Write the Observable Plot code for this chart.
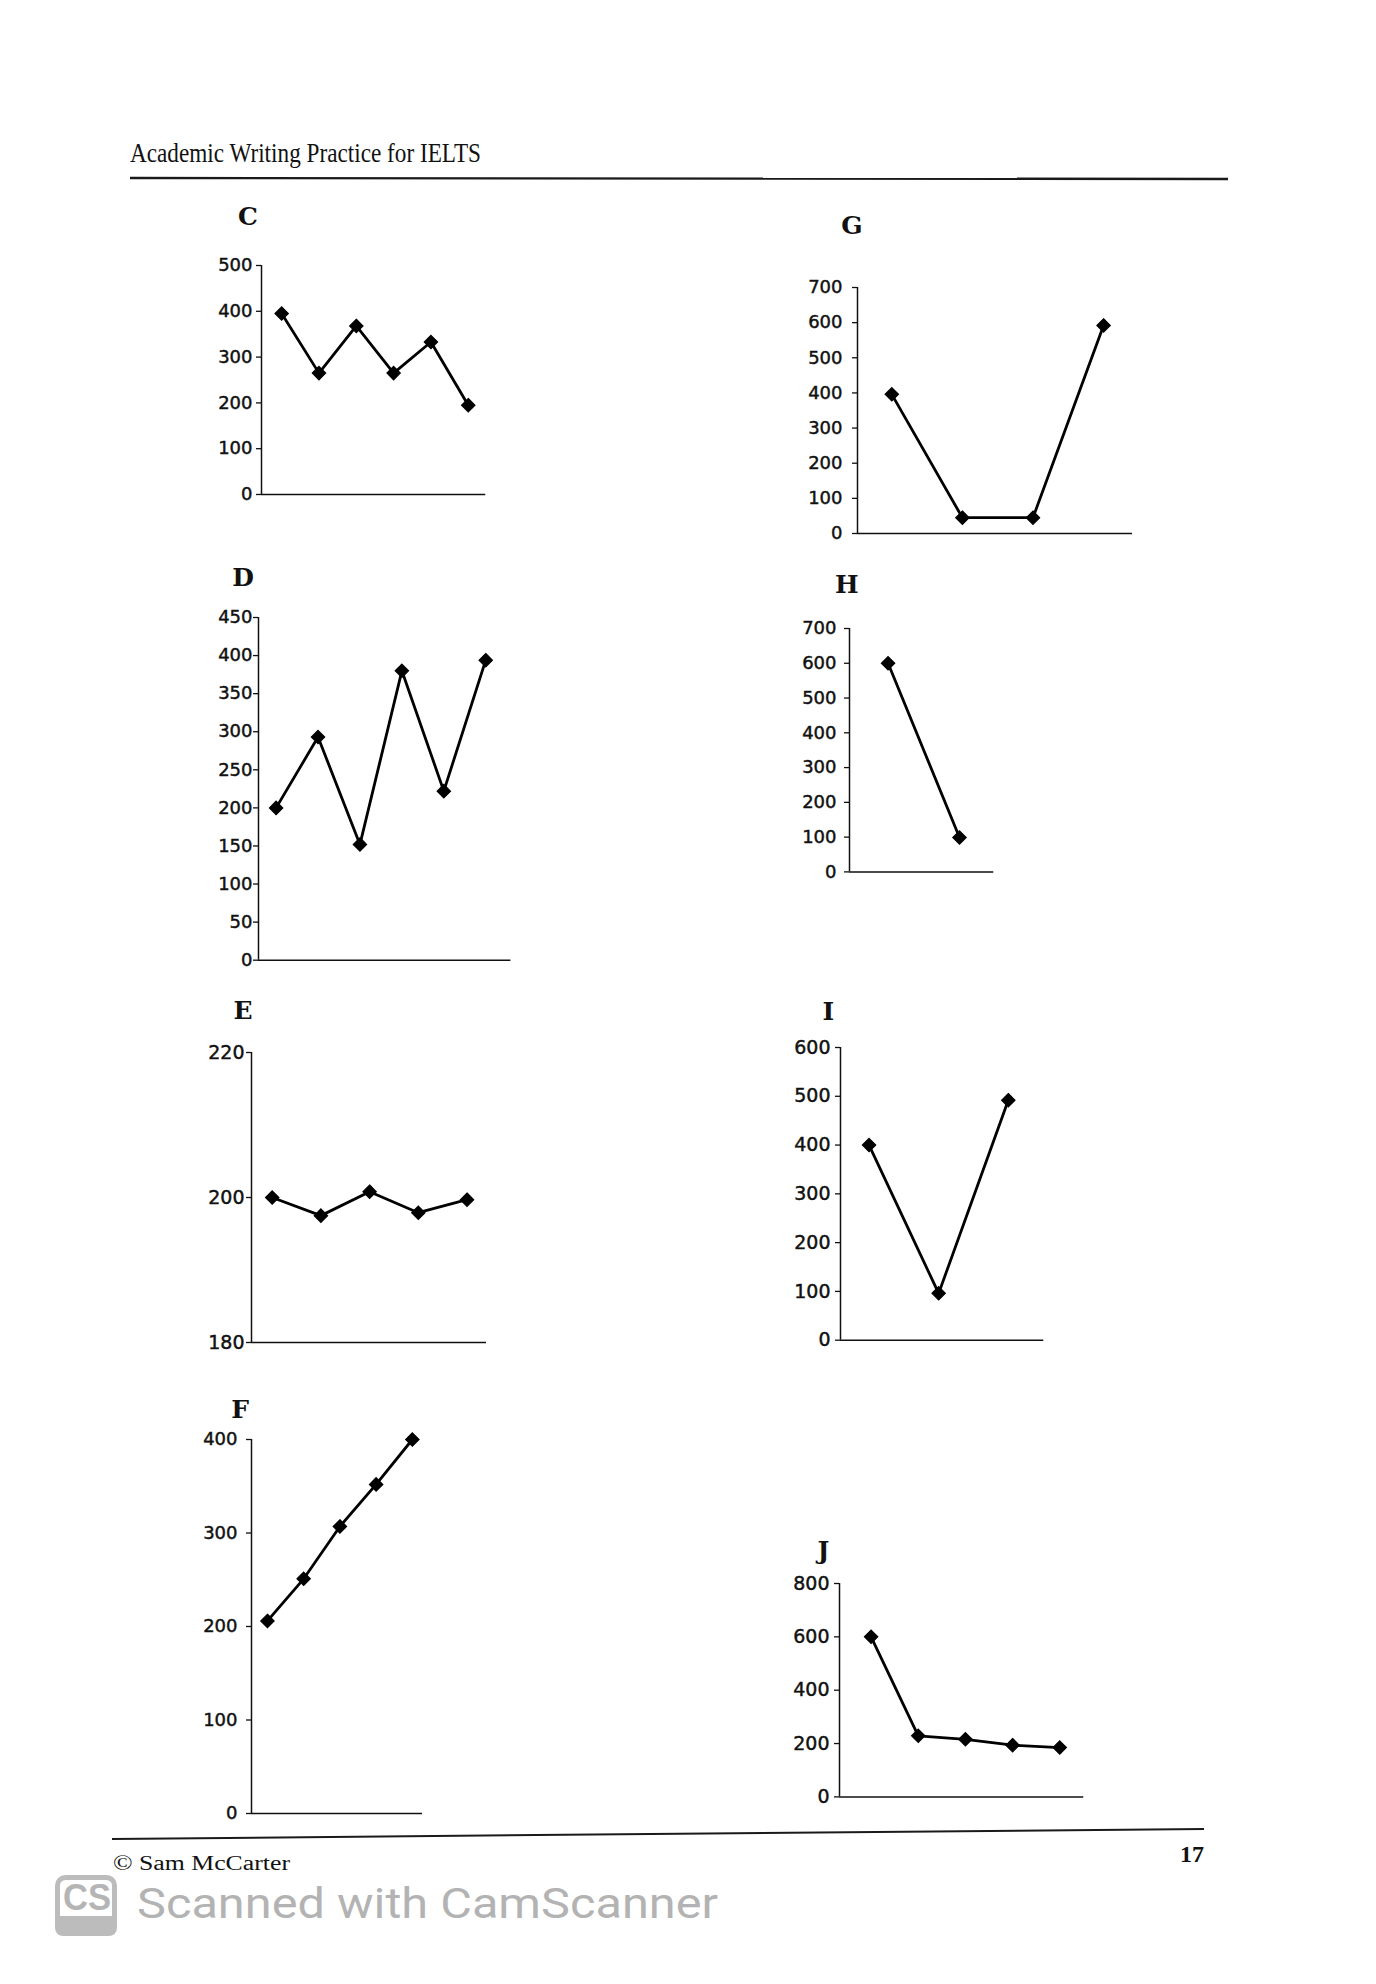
<!DOCTYPE html>
<html>
<head>
<meta charset="utf-8">
<script src="https://cdn.jsdelivr.net/npm/d3@7"></script>
<script src="https://cdn.jsdelivr.net/npm/@observablehq/plot@0.6"></script>
<style>
  html, body { margin: 0; padding: 0; background: #fff; }
  #page { position: relative; width: 1376px; height: 1984px; background: #fff; overflow: hidden; }
  #page > svg { position: absolute; }
  #page g[aria-label="y-axis tick label"] text { stroke: #111; stroke-width: 0.45px; }
</style>
</head>
<body>
<div id="page"></div>
<script>
// ---------------- data ----------------
const headerText = "Academic Writing Practice for IELTS";
const footerText = "© Sam McCarter";
const pageNumber = "17";
const scannerText = "Scanned with CamScanner";

const titles = ["C", "D", "E", "F", "G", "H", "I", "J"];

const valuesC = [395, 265, 368, 265, 333, 195];
const valuesD = [200, 293, 152, 380, 222, 394];
const valuesE = [200, 197.5, 200.8, 197.9, 199.7];
const valuesF = [206, 251, 307, 352, 400];
const valuesG = [396, 45, 45, 592];
const valuesH = [600, 99];
const valuesI = [400, 96, 492];
const valuesJ = [600, 229, 216, 194, 185];

const ticksC = [0, 100, 200, 300, 400, 500];
const ticksD = [0, 50, 100, 150, 200, 250, 300, 350, 400, 450];
const ticksE = [180, 200, 220];
const ticksF = [0, 100, 200, 300, 400];
const ticksG = [0, 100, 200, 300, 400, 500, 600, 700];
const ticksH = [0, 100, 200, 300, 400, 500, 600, 700];
const ticksI = [0, 100, 200, 300, 400, 500, 600];
const ticksJ = [0, 200, 400, 600, 800];

// ---------------- layout (page coordinates) ----------------
const layout = [
  {title: "C", values: valuesC, ticks: ticksC, axisX: 260.7, xEnd: 485,    yTop: 265,    y0: 494,    xDom: [-0.54, 5.47], tx: 248,   ty: 216,  pad: 4,  fs: 18},
  {title: "D", values: valuesD, ticks: ticksD, axisX: 258.3, xEnd: 510.7,  yTop: 617.3,  y0: 960,    xDom: [-0.42, 5.6],  tx: 243,   ty: 577,  pad: 1,  fs: 18},
  {title: "E", values: valuesE, ticks: ticksE, axisX: 251,   xEnd: 486,    yTop: 1051.7, y0: 1341.7, xDom: [-0.425, 4.4], tx: 243,   ty: 1010, pad: 2,  fs: 19},
  {title: "F", values: valuesF, ticks: ticksF, axisX: 250.7, xEnd: 421.7,  yTop: 1439.3, y0: 1813.3, xDom: [-0.44, 4.28], tx: 240,   ty: 1409, pad: 9,  fs: 18},
  {title: "G", values: valuesG, ticks: ticksG, axisX: 856.7, xEnd: 1131.7, yTop: 286.7,  y0: 532.7,  xDom: [-0.486, 3.41],tx: 852,   ty: 225,  pad: 10, fs: 18},
  {title: "H", values: valuesH, ticks: ticksH, axisX: 849,   xEnd: 993.3,  yTop: 628.3,  y0: 871.7,  xDom: [-0.54, 1.48], tx: 846.7, ty: 584,  pad: 8,  fs: 18},
  {title: "I", values: valuesI, ticks: ticksI, axisX: 840,   xEnd: 1043.3, yTop: 1047.3, y0: 1340,   xDom: [-0.41, 2.51], tx: 828.3, ty: 1011, pad: 5,  fs: 19},
  {title: "J", values: valuesJ, ticks: ticksJ, axisX: 839,   xEnd: 1083.3, yTop: 1583.3, y0: 1796.7, xDom: [-0.67, 4.51], tx: 823.5, ty: 1550, pad: 5,  fs: 19}
];

const page = document.getElementById("page");
const NS = "http://www.w3.org/2000/svg";

// ---------------- decorative overlay (page text & rules) ----------------
const deco = document.createElementNS(NS, "svg");
deco.setAttribute("width", 1376);
deco.setAttribute("height", 1984);
deco.style.left = "0px";
deco.style.top = "0px";
page.appendChild(deco);

function el(tag, attrs, text) {
  const e = document.createElementNS(NS, tag);
  for (const k in attrs) e.setAttribute(k, attrs[k]);
  if (text != null) e.textContent = text;
  deco.appendChild(e);
  return e;
}

// header
el("text", {x: 130, y: 162, "font-family": "Liberation Serif", "font-size": 28, fill: "#111",
  textLength: 351, lengthAdjust: "spacingAndGlyphs"}, headerText);
el("line", {x1: 130, y1: 178, x2: 1228, y2: 179, stroke: "#1a1a1a", "stroke-width": 2.4});

// footer
el("line", {x1: 112, y1: 1839, x2: 1204, y2: 1829, stroke: "#1a1a1a", "stroke-width": 2});
el("text", {x: 113, y: 1870, "font-family": "Liberation Serif", "font-size": 20, fill: "#111",
  textLength: 177, lengthAdjust: "spacingAndGlyphs"}, footerText);
el("text", {x: 1204, y: 1862, "text-anchor": "end", "font-family": "Liberation Serif", "font-weight": "bold",
  "font-size": 24, fill: "#111"}, pageNumber);

// CamScanner watermark
el("rect", {x: 57.5, y: 1877.5, width: 57, height: 56, rx: 8, fill: "none", stroke: "#bcbcbc", "stroke-width": 5});
el("path", {d: "M55,1916 H117 V1927 Q117,1936 108,1936 H64 Q55,1936 55,1927 Z", fill: "#bcbcbc"});
el("text", {x: 63, y: 1910, "font-family": "Liberation Sans", "font-weight": "bold", "font-size": 36, fill: "#b5b5b5",
  textLength: 48, lengthAdjust: "spacingAndGlyphs"}, "CS");
el("text", {x: 137, y: 1918, "font-family": "Roboto", "font-size": 43, fill: "#b3b3b3",
  textLength: 581, lengthAdjust: "spacingAndGlyphs"}, scannerText);

// chart titles (bold serif letters)
for (const c of layout) {
  el("text", {x: c.tx, y: c.ty + 9.2, "text-anchor": "middle", "font-family": "DejaVu Serif",
    "font-weight": "bold", "font-size": 25, fill: "#111"}, c.title);
}

// ---------------- charts ----------------
function makeChart(c) {
  const mL = 56, mR = 10, mT = 14, mB = 12;
  const w = c.xEnd - c.axisX + mL + mR;
  const h = c.y0 - c.yTop + mT + mB;
  const yDom = [c.ticks[0], c.ticks[c.ticks.length - 1]];
  const data = c.values.map((v, i) => ({i, v}));
  const chart = Plot.plot({
    width: w,
    height: h,
    marginLeft: mL,
    marginRight: mR,
    marginTop: mT,
    marginBottom: mB,
    x: {domain: c.xDom, axis: null},
    y: {domain: yDom, label: null},
    style: {background: "transparent", overflow: "visible", color: "#111", fontFamily: "DejaVu Sans"},
    marks: [
      Plot.ruleX([c.xDom[0]], {stroke: "#111", strokeWidth: 1.5}),
      Plot.ruleY([yDom[0]], {stroke: "#111", strokeWidth: 1.5}),
      Plot.axisY(c.ticks, {label: null, tickSize: 5, tickPadding: c.pad, fontSize: c.fs, fontFamily: "DejaVu Sans",
        stroke: "#111", strokeWidth: 1.3, fill: "#111", tickFormat: d => String(d)}),
      Plot.line(data, {x: "i", y: "v", stroke: "#000", strokeWidth: 2.8}),
      Plot.dot(data, {x: "i", y: "v", symbol: "diamond2", r: 6, fill: "#000", stroke: "#000", strokeWidth: 1.2})
    ]
  });
  chart.style.position = "absolute";
  chart.style.left = (c.axisX - mL) + "px";
  chart.style.top = (c.yTop - mT) + "px";
  page.appendChild(chart);
}

layout.forEach(makeChart);
</script>
</body>
</html>
